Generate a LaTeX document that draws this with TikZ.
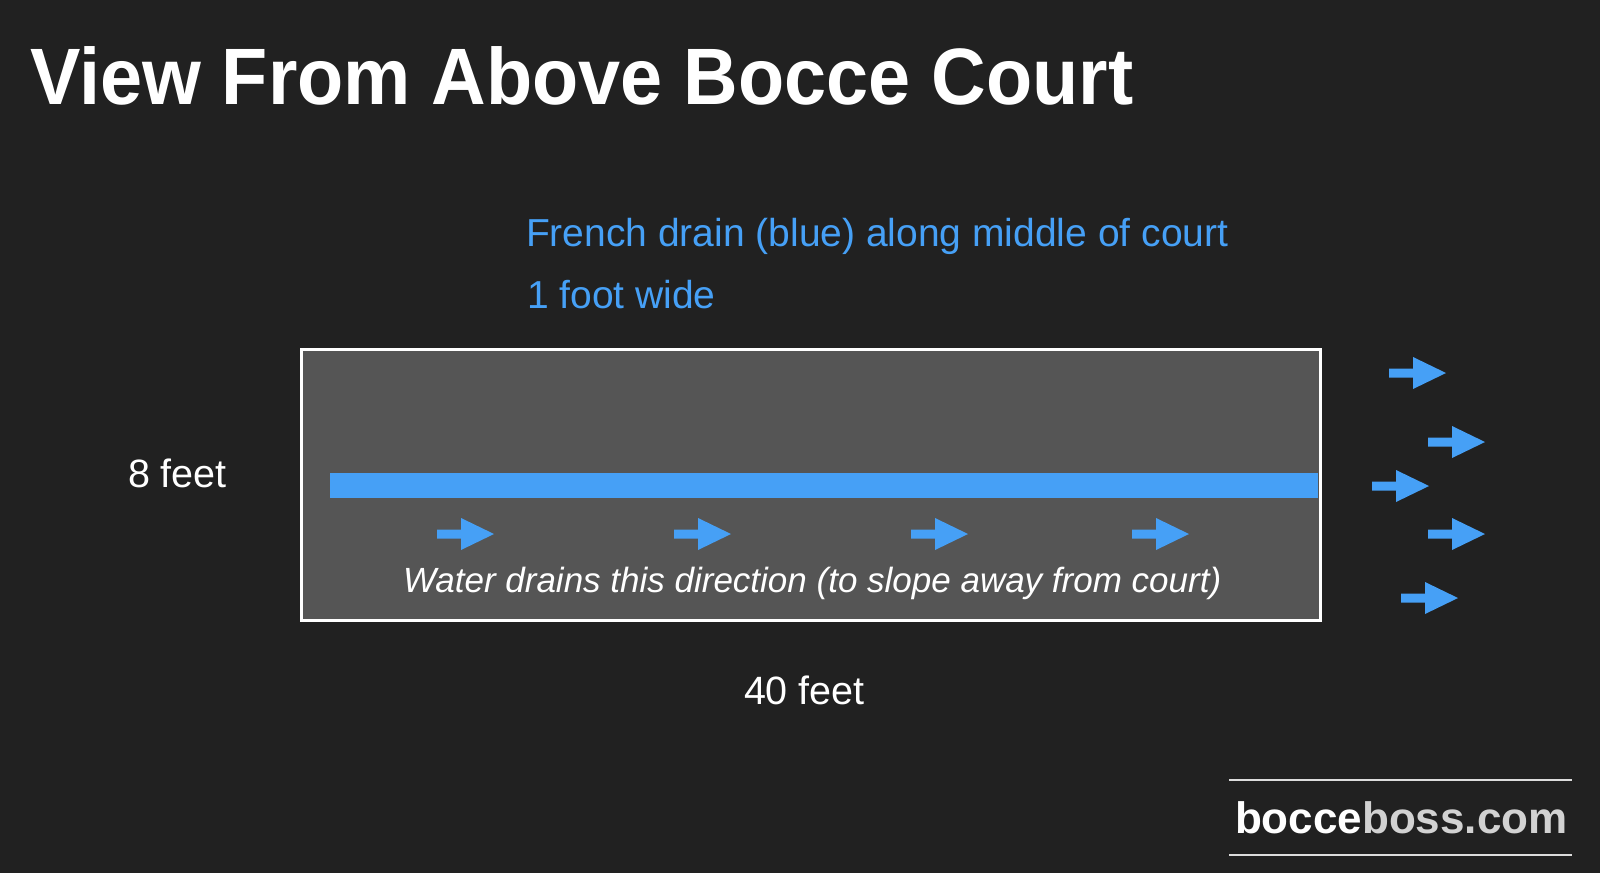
\documentclass[tikz,border=0pt]{standalone}
\usepackage{fontspec}
\setmainfont{Liberation Sans}
\newfontface\titlefont{Liberation Sans Bold}[FakeStretch=0.945]
\definecolor{bg}{RGB}{33,33,33}
\definecolor{courtgray}{RGB}{85,85,85}
\definecolor{drainblue}{RGB}{70,160,246}
\definecolor{logogray}{RGB}{210,210,210}
\definecolor{rulegray}{RGB}{220,220,220}
\tikzset{
  txt/.style={anchor=base west, inner sep=0pt, outer sep=0pt},
  labeltext/.style={txt, font=\fontsize{19.75pt}{23pt}\selectfont, text=white},
  bluetext/.style={txt, font=\fontsize{19.5pt}{23pt}\selectfont, text=drainblue},
  flowarrow/.pic={\fill[drainblue] (0,-4.5) -- (24,-4.5) -- (24,-16) -- (57,0) -- (24,16) -- (24,4.5) -- (0,4.5) -- cycle;}
}
\begin{document}
\begin{tikzpicture}[x=0.5pt, y=-0.5pt]
\fill[bg] (0,0) rectangle (1600,873);
\useasboundingbox (0,0) rectangle (1600,873);
% title
\node[txt, font=\titlefont\fontsize{40pt}{46pt}\selectfont, text=white] (title) at (30,104) {View From Above Bocce Court};
% blue notes
\node[bluetext] (note1) at (526,246) {French drain (blue) along middle of court};
\node[bluetext] (note2) at (527,308) {1 foot wide};
% court
\draw[white, line width=1.5pt, fill=courtgray] (301.5,349.5) rectangle (1320,620);
% drain
\fill[drainblue] (330,473) rectangle (1318,498);
% arrows inside court
\foreach \xx in {437,674,911,1132}
  \pic at (\xx,534) {flowarrow};
% arrows outside
\pic at (1389,373) {flowarrow};
\pic at (1428,442) {flowarrow};
\pic at (1372,486) {flowarrow};
\pic at (1428,534) {flowarrow};
\pic at (1401,598) {flowarrow};
% labels
\node[txt, font=\itshape\fontsize{17.5pt}{21pt}\selectfont, text=white] (water) at (403,592) {Water drains this direction (to slope away from court)};
\node[labeltext] (width) at (128,487) {8 feet};
\node[labeltext] (length) at (744,704) {40 feet};
% logo
\draw[rulegray, line width=1pt] (1229,780) -- (1572,780);
\draw[rulegray, line width=1pt] (1229,855) -- (1572,855);
\node[txt, font=\bfseries\fontsize{22pt}{26pt}\selectfont] (logo) at (1235,833) {\textcolor{white}{bocce}\textcolor{logogray}{boss.com}};
\end{tikzpicture}
\end{document}
